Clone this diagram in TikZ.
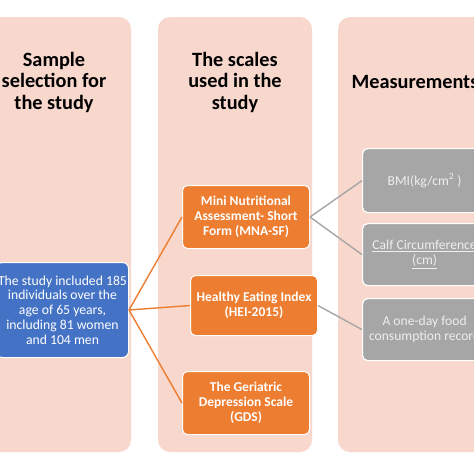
\documentclass[tikz,border=0pt]{standalone}
\usepackage{fontspec}
\setmainfont{Carlito}
\definecolor{panelpink}{RGB}{248,215,205}
\definecolor{scaleorange}{RGB}{237,125,49}
\definecolor{sampleblue}{RGB}{68,114,196}
\definecolor{measgray}{RGB}{166,166,166}
\definecolor{meastext}{RGB}{238,238,238}
\begin{document}
\begin{tikzpicture}[x=1pt, y=-1pt,
    panel/.style={fill=panelpink, rounded corners=12pt},
    title/.style={font=\bfseries\fontsize{20.3}{21.5}\selectfont, align=center},
    samplebox/.style={rectangle, fill=sampleblue, draw=white, line width=1pt, rounded corners=6pt,
        text=white, font=\fontsize{13.7}{14.8}\selectfont, align=center,
        minimum width=132pt, minimum height=95pt, inner sep=0pt, anchor=north west},
    scalebox/.style={rectangle, fill=scaleorange, draw=white, line width=1pt, rounded corners=5pt,
        text=white, font=\bfseries\fontsize{13.5}{15}\selectfont, align=center,
        minimum width=127pt, minimum height=63pt, inner sep=0pt, anchor=north west},
    measbox/.style={rectangle, fill=measgray, draw=white, line width=1.2pt, rounded corners=5pt,
        text=meastext, font=\fontsize{13.6}{15}\selectfont, align=center,
        minimum width=124pt, minimum height=63pt, inner sep=0pt, anchor=north west},
    orangelink/.style={draw=scaleorange, line width=1.4pt},
    graylink/.style={draw=measgray, line width=1.4pt}
]
    \useasboundingbox (0,0) rectangle (474,474);
    \clip (0,0) rectangle (474,474);
    \fill[white] (0,0) rectangle (474,474);

    % Panels
    \foreach \x in {-23, 158, 338} {
        \fill[panel] (\x,17) rectangle (\x+154,452);
    }

    % Titles
    \node[title] (t1) at (54,82) {Sample\\selection for\\the study};
    \node[title] (t2) at (235,82) {The scales\\used in the\\study};
    \node[title] (t3) at (415,82) {Measurements};

    % Sample
    \node[samplebox] (sample) at (-4,262) {The study included 185\\individuals over the\\age of 65 years,\\including 81 women\\and 104 men};

    % Scales
    \node[scalebox] (mna) at (182,185) {Mini Nutritional\\Assessment- Short\\Form (MNA-SF)};
    \node[scalebox, minimum height=60pt] (hei) at (190,275) {Healthy Eating Index\\(HEI-2015)};
    \node[scalebox] (gds) at (182,371) {The Geriatric\\Depression Scale\\(GDS)};

    % Measurements
    \node[measbox, minimum height=64pt] (bmi) at (362,148) {BMI(kg/cm\textsuperscript{2} )};
    \node[measbox, minimum height=62pt] (calf) at (362,223) {\underline{Calf Circumference}\\\underline{(cm)}};
    \node[measbox, minimum height=62pt] (food) at (362,298) {A one-day food\\consumption record};

    % Links
    \foreach \s in {mna, hei, gds} {
        \draw[orangelink] (sample.east) -- (\s.west);
    }
    \draw[graylink] (mna.east) -- (bmi.west);
    \draw[graylink] (mna.east) -- (calf.west);
    \draw[graylink] (hei.east) -- (food.west);
\end{tikzpicture}
\end{document}
